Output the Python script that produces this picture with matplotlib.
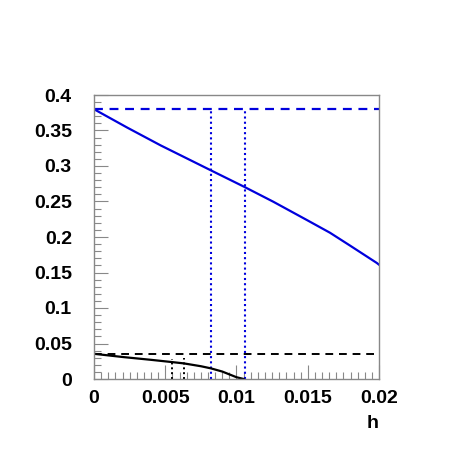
import numpy as np
import matplotlib
matplotlib.use('Agg')
import matplotlib.pyplot as plt
from matplotlib.ticker import MultipleLocator

# blue curve and its limits
h_blue = [0.0, 0.00234, 0.00468, 0.00819, 0.01053, 0.01258, 0.01493, 0.01656, 0.01796, 0.01984, 0.02]
y_blue = [0.380, 0.354, 0.329, 0.294, 0.2708, 0.2497, 0.224, 0.206, 0.188, 0.1635, 0.161]
blue_level = 0.38
blue_marks = [0.0082, 0.0106]

# black curve and its limits
h_black = [0.0, 0.002, 0.004, 0.0054, 0.0063, 0.0075, 0.0082, 0.009, 0.0095, 0.01, 0.0105]
y_black = [0.0355, 0.031, 0.027, 0.024, 0.022, 0.018, 0.015, 0.0105, 0.0065, 0.0025, 0.0]
black_level = 0.035
black_marks = [0.00545, 0.0063]
black_mark_tops = [0.028, 0.029]

plt.rcParams['font.family'] = ['Liberation Sans', 'DejaVu Sans']
plt.rcParams['font.weight'] = 'bold'

fig = plt.figure(figsize=(4.74, 4.74), dpi=100)
ax = fig.add_axes([94 / 474, 95 / 474, 285 / 474, 284 / 474])

ax.plot(h_blue, y_blue, color='#0000dd', lw=1.6)
ax.axhline(blue_level, color='#0000dd', lw=1.6, ls=(0, (4, 3)))
for m in blue_marks:
    ax.plot([m, m], [0, blue_level], color='#0000dd', lw=1.5, ls=(0, (1, 1.5)))

ax.plot(h_black, y_black, color='black', lw=1.6)
ax.axhline(black_level, color='black', lw=1.4, ls=(0, (4, 3)))
for m, t in zip(black_marks, black_mark_tops):
    ax.plot([m, m], [0, t], color='black', lw=1.4, ls=(0, (1, 1.5)))

ax.set_xlim(0, 0.02)
ax.set_ylim(0, 0.4)
ax.xaxis.set_major_locator(MultipleLocator(0.005))
ax.xaxis.set_minor_locator(MultipleLocator(0.0005))
ax.yaxis.set_major_locator(MultipleLocator(0.05))
ax.yaxis.set_minor_locator(MultipleLocator(0.01))
ax.xaxis.set_major_formatter(plt.FuncFormatter(lambda v, p: f'{v:g}'))
ax.yaxis.set_major_formatter(plt.FuncFormatter(lambda v, p: f'{v:g}'))

for s in ax.spines.values():
    s.set_color('#888888')
    s.set_linewidth(1.0)
ax.tick_params(which='both', direction='in', color='#888888', width=0.8,
               top=False, right=False, labelsize=14)
ax.tick_params(which='major', length=10)
ax.tick_params(which='minor', length=5)
ax.tick_params(axis='y', pad=16)
ax.tick_params(axis='x', pad=8)

fig.text(373 / 474, 1 - 424 / 474, 'h', ha='center', va='center',
         fontsize=14, fontweight='bold')

plt.savefig('out.png', dpi=100)
